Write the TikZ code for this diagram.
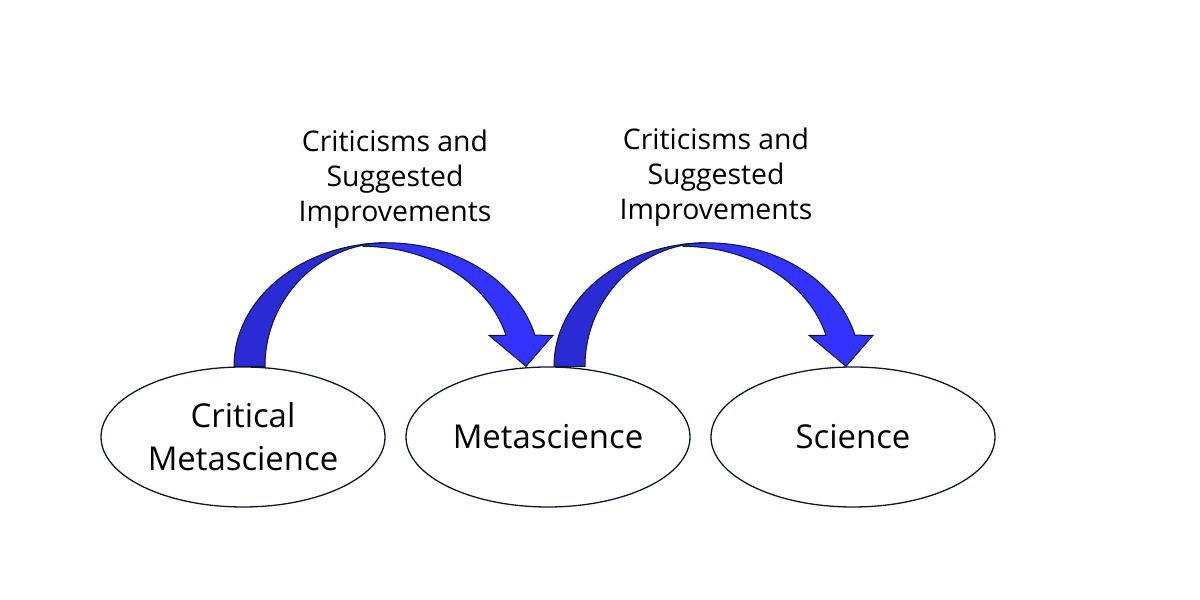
\documentclass[tikz,border=0pt]{standalone}
\usepackage{fontspec}
\setmainfont{Open Sans}
\usetikzlibrary{shapes.geometric}
\definecolor{navy}{RGB}{12,22,48}
\definecolor{tailblue}{RGB}{43,43,214}
\definecolor{headblue}{RGB}{51,51,255}

\begin{document}
\begin{tikzpicture}[x=1bp, y=1bp,
  every node/.style={align=center},
  bubble/.style={draw=navy, line width=1.3bp, ellipse, minimum width=284bp, minimum height=140bp, inner sep=0pt, font=\fontsize{33}{43}\selectfont},
  note/.style={font=\fontsize{28.5}{35}\selectfont},
  tailband/.style={draw=navy, line width=1bp, fill=tailblue},
  headband/.style={draw=navy, line width=1bp, fill=headblue}]

\useasboundingbox (0,0) rectangle (1200,600);

\node[bubble] (cm) at (243,163) {Critical\\Metascience};
\node[bubble] (ms) at (548,163) {Metascience};
\node[bubble] (sc) at (853,163) {Science};

\node[note] (n1) at (395,421) {Criticisms and\\Suggested\\Improvements};
\node[note] (n2) at (716,423) {Criticisms and\\Suggested\\Improvements};

% bent block arrows, base on top of the source bubble
\foreach \a/\dx in {cm/-9, ms/6} {
  \begin{scope}[shift={([xshift=\dx bp]\a.north)}]
    \draw[headband] (129,122) arc[start angle=99, end angle=14.6, x radius=153, y radius=123.5]
      -- (319,31) -- (292,0) -- (255,31) -- (272,31)
      arc[start angle=15, end angle=90, x radius=148, y radius=120] -- cycle;
    \draw[tailband] (0,0) arc[start angle=180, end angle=90, x radius=153, y radius=123.5]
      arc[start angle=90, end angle=180, x radius=122, y radius=123.5] -- cycle;
  \end{scope}
}

\end{tikzpicture}
\end{document}
